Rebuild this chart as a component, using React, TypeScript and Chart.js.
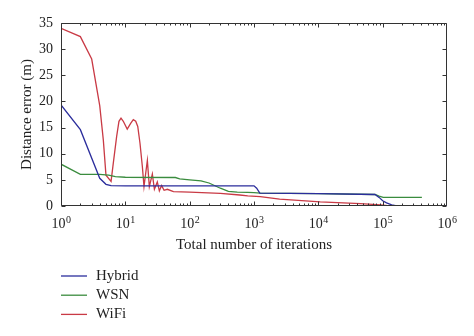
import React, { useEffect, useRef } from "react";
import { Chart, registerables } from "chart.js";

Chart.register(...registerables);

// ---- Data ----
const hybridX = [1, 2, 4, 5, 6, 10, 100, 1000, 1100, 1230, 10000, 76000, 89000, 100000, 115000, 138000, 166000, 1000000];
const hybridY = [19.35, 14.6, 5.3, 4.15, 3.9, 3.85, 3.85, 3.85, 3.4, 2.45, 2.35, 2.2, 1.6, 1.0, 0.6, 0.2, 0, 0];

const wsnX = [1, 2, 4, 5.5, 7, 10, 60, 70, 100, 150, 200, 300, 400, 550, 800, 1000, 1250, 10000, 76000, 88000, 102000, 407000];
const wsnY = [8.0, 6.05, 6.05, 5.9, 5.6, 5.5, 5.45, 5.2, 5.0, 4.8, 4.4, 3.4, 2.8, 2.65, 2.6, 2.55, 2.45, 2.35, 2.2, 1.9, 1.66, 1.66];

const wifiX = [1, 2, 3, 4, 4.55, 5, 6, 6.5, 7.33, 7.96, 8.57, 9.3, 10.7, 12.1, 13.3, 14.5, 15.6, 16.9, 18.4, 19.5, 22, 23.6, 26.3, 28.3, 31.4, 33.8, 36.6, 40, 45, 56, 100, 300, 600, 800, 1250, 2500, 10700, 45000, 93000, 130000, 1000000];
const wifiY = [34.0, 32.4, 28.1, 19.2, 12.6, 5.9, 4.7, 8.2, 13.3, 16.2, 16.8, 16.2, 14.7, 15.8, 16.5, 16.2, 15.2, 12.0, 7.5, 3.7, 8.7, 3.7, 6.1, 3.2, 4.6, 2.9, 3.9, 3.0, 3.2, 2.75, 2.65, 2.4, 2.1, 1.95, 1.8, 1.3, 0.77, 0.45, 0.2, 0.02, 0];

const seriesLabels = ["Hybrid", "WSN", "WiFi"];
const seriesColors = ["#2b2d9c", "#3a8c3e", "#c93a45"];

const xTickValues = [1, 10, 100, 1000, 10000, 100000, 1000000];
const xTickBase = "10";
const xTickExponents = ["0", "1", "2", "3", "4", "5", "6"];
const yTickValues = [0, 5, 10, 15, 20, 25, 30, 35];

const FONT = "'Liberation Serif', 'DejaVu Serif', serif";
const TEXT = "#222";
const FRAME = "#333";

const framePlugin = {
  id: "frameTicks",
  afterDatasetsDraw(chart: any) {
    const { ctx, chartArea, scales } = chart;
    const { left, right, top, bottom } = chartArea;
    const x = scales.x;
    const y = scales.y;
    ctx.save();
    ctx.strokeStyle = FRAME;
    ctx.lineWidth = 1;
    const L = Math.round(left) + 0.5;
    const R = Math.round(right) - 0.5;
    const T = Math.round(top) + 0.5;
    const B = Math.round(bottom) - 0.5;
    ctx.beginPath();
    ctx.rect(L, T, R - L, B - T);
    ctx.stroke();
    ctx.beginPath();
    for (let k = 0; k < 6; k++) {
      for (let m = 1; m <= 9; m++) {
        const v = m * Math.pow(10, k);
        const px = Math.round(x.getPixelForValue(v)) + 0.5;
        const len = m === 1 ? 4 : 2;
        ctx.moveTo(px, B);
        ctx.lineTo(px, B - len);
        ctx.moveTo(px, T);
        ctx.lineTo(px, T + len);
      }
    }
    for (const v of yTickValues) {
      const py = Math.round(y.getPixelForValue(v)) + 0.5;
      ctx.moveTo(L, py);
      ctx.lineTo(L + 4, py);
      ctx.moveTo(R, py);
      ctx.lineTo(R - 4, py);
    }
    ctx.stroke();
    ctx.restore();
  },
  afterDraw(chart: any) {
    const { ctx, chartArea, scales } = chart;
    ctx.save();
    // x tick labels with raised exponents
    ctx.fillStyle = TEXT;
    ctx.textBaseline = "alphabetic";
    ctx.textAlign = "left";
    xTickValues.forEach((v, i) => {
      const px = scales.x.getPixelForValue(v);
      ctx.font = `14px ${FONT}`;
      const wb = ctx.measureText(xTickBase).width;
      ctx.font = `10px ${FONT}`;
      const we = ctx.measureText(xTickExponents[i]).width;
      const x0 = px - (wb + we) / 2;
      const baseY = chartArea.bottom + 22;
      ctx.font = `14px ${FONT}`;
      ctx.fillText(xTickBase, x0, baseY);
      ctx.font = `10px ${FONT}`;
      ctx.fillText(xTickExponents[i], x0 + wb + 0.5, baseY - 5.5);
    });
    // legend
    ctx.font = `15px ${FONT}`;
    ctx.textBaseline = "middle";
    chart.data.datasets.forEach((ds: any, i: number) => {
      const yy = chartArea.bottom + 70 + i * 19.2;
      ctx.strokeStyle = ds.borderColor;
      ctx.lineWidth = 1.3;
      ctx.beginPath();
      ctx.moveTo(chartArea.left, yy);
      ctx.lineTo(chartArea.left + 26, yy);
      ctx.stroke();
      ctx.fillText(ds.label, chartArea.left + 35, yy);
    });
    ctx.restore();
  },
};

function toPoints(xs: number[], ys: number[]) {
  return xs.map((x, i) => ({ x, y: ys[i] }));
}

export default function App() {
  const ref = useRef<HTMLCanvasElement | null>(null);
  useEffect(() => {
    if (!ref.current) return;
    const chart = new Chart(ref.current, {
      type: "line",
      data: {
        datasets: [
          { label: seriesLabels[0], data: toPoints(hybridX, hybridY), borderColor: seriesColors[0], borderWidth: 1.3, pointRadius: 0, tension: 0 },
          { label: seriesLabels[1], data: toPoints(wsnX, wsnY), borderColor: seriesColors[1], borderWidth: 1.3, pointRadius: 0, tension: 0 },
          { label: seriesLabels[2], data: toPoints(wifiX, wifiY), borderColor: seriesColors[2], borderWidth: 1.3, pointRadius: 0, tension: 0 },
        ],
      },
      options: {
        animation: false,
        responsive: false,
        events: [],
        layout: { padding: { top: 23, right: 27, left: 0, bottom: 80 } },
        plugins: { legend: { display: false }, tooltip: { enabled: false } },
        scales: {
          x: {
            type: "logarithmic",
            min: 1,
            max: 1000000,
            grid: { display: false, drawTicks: false },
            border: { display: false },
            afterBuildTicks: (s: any) => {
              s.ticks = xTickValues.map((v) => ({ value: v }));
            },
            afterFit: (s: any) => {
              s.height = 50;
            },
            ticks: { display: false },
            title: {
              display: true,
              text: "Total number of iterations",
              color: TEXT,
              font: { family: FONT, size: 15 },
              padding: { top: 0, bottom: 2 },
            },
          },
          y: {
            min: 0,
            max: 35,
            grid: { display: false, drawTicks: false },
            border: { display: false },
            afterFit: (s: any) => {
              s.width = 61;
            },
            ticks: {
              stepSize: 5,
              padding: 8,
              color: TEXT,
              font: { family: FONT, size: 14 },
            },
            title: {
              display: true,
              text: "Distance error (m)",
              color: TEXT,
              font: { family: FONT, size: 15 },
              padding: { top: 18, bottom: 0 },
            },
          },
        },
      },
      plugins: [framePlugin],
    } as any);
    return () => chart.destroy();
  }, []);
  return (
    <div style={{ position: "absolute", left: 0, top: 0, width: 474, height: 336, background: "#fff" }}>
      <canvas ref={ref} width={474} height={336} />
    </div>
  );
}
